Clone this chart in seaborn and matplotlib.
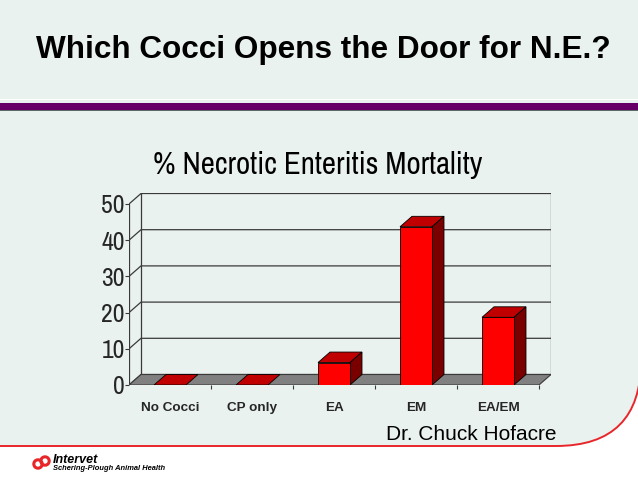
import matplotlib
matplotlib.use("Agg")
import matplotlib.pyplot as plt
import seaborn as sns
import pandas as pd
from matplotlib import font_manager as fm
from matplotlib.patches import Polygon, FancyBboxPatch, Rectangle, Circle

# ---- data ----
categories = ["No Cocci", "CP only", "EA", "EM", "EA/EM"]
mortality = [0, 0, 6.2, 43.7, 18.7]
y_ticks = [0, 10, 20, 30, 40, 50]
slide_title = "Which Cocci Opens the Door for N.E.?"
chart_title = "% Necrotic Enteritis Mortality"
credit = "Dr. Chuck Hofacre"

sns.set_theme(style="white")
plt.rcParams['font.family'] = ['Liberation Sans', 'DejaVu Sans']

_installed = {f.name for f in fm.fontManager.ttflist}
_narrow_candidates = ["Liberation Sans Narrow", "Arial Narrow", "Archivo Narrow",
                      "PT Sans Narrow", "Roboto Condensed", "Pragati Narrow",
                      "Open Sans Condensed", "Fira Sans Condensed",
                      "IBM Plex Sans Condensed", "Encode Sans Condensed",
                      "Asap Condensed", "Sofia Sans Condensed", "Barlow Condensed"]
_reg = next((n for n in _narrow_candidates if n in _installed), None)
NARROW = ([_reg] if _reg else []) + ['Liberation Sans', 'DejaVu Sans']

W, H = 638, 478
fig = plt.figure(figsize=(W / 100, H / 100), dpi=100)
fig.patch.set_facecolor("white")

# ---- slide background ----
bg = fig.add_axes([0, 0, 1, 1], zorder=0)
bg.set_xlim(0, W)
bg.set_ylim(H, 0)
bg.axis("off")
bg.add_patch(FancyBboxPatch((-300, -300), 941, 746,
                            boxstyle="round,pad=0,rounding_size=85",
                            facecolor="#EAF2EF", edgecolor="#E8262A", lw=1.4))
bg.add_patch(Rectangle((0, 98.5), W, 1.5, color="white", lw=0))
bg.add_patch(Rectangle((0, 103), W, 7, color="#660066", lw=0))
bg.add_patch(Rectangle((0, 110), W, 1.2, color="#5a6b66", lw=0))
bg.text(323, 58, slide_title, ha="center", va="baseline",
        fontsize=22.7, fontweight="bold", color="black")
bg.text(471, 440, credit, ha="center", va="baseline", fontsize=15, color="black")
bg.text(318, 174, chart_title, ha="center", va="baseline", fontsize=22.3,
        family=NARROW, color="black")
# logo
bg.add_patch(Circle((38, 464), 4.2, fill=False, ec="#E8262A", lw=2.2))
bg.add_patch(Circle((45, 461), 4.2, fill=False, ec="#E8262A", lw=2.2))
bg.text(53, 463, "Intervet", fontsize=9, fontweight="bold", style="italic",
        color="black", va="baseline")
bg.text(53, 470.5, "Schering-Plough Animal Health", fontsize=5.4, fontweight="bold",
        style="italic", color="black", va="baseline")

# ---- chart axes ----
px_x = 82.0     # px per category
px_y = 3.62     # px per unit
dx = 12 / px_x
dy = 10.5 / px_y
x_lo, x_hi = -0.5, 4.5 + dx
y_lo, y_hi = 0, 50 + dy
left_px, base_px = 129, 385
ax = fig.add_axes([left_px / W, (H - base_px) / H,
                   (x_hi - x_lo) * px_x / W, (y_hi - y_lo) * px_y / H], zorder=2)
ax.set_facecolor("none")

df = pd.DataFrame({"category": categories, "value": mortality})
sns.barplot(data=df, x="category", y="value", color="#FF0000", saturation=1,
            width=0.39, edgecolor="black", linewidth=0.6, ax=ax, zorder=4)

# floor
ax.add_patch(Polygon([(-0.5, 0), (4.5, 0), (4.5 + dx, dy), (-0.5 + dx, dy)],
                     closed=True, facecolor="#808080", edgecolor="#3a3a3a",
                     lw=0.8, zorder=1))
# back wall gridlines
for t in y_ticks:
    ax.plot([-0.5, -0.5 + dx, 4.5 + dx], [t, t + dy, t + dy],
            color="#3a3a3a", lw=0.9, zorder=0.5, solid_capstyle="butt")
ax.plot([4.5 + dx, 4.5 + dx], [dy, 50 + dy], color="#3a3a3a", lw=0.9, zorder=0.5)
ax.plot([-0.5 + dx, -0.5 + dx], [dy, 50 + dy], color="#3a3a3a", lw=0.9, zorder=0.5)
ax.plot([-0.5, -0.5], [0, 50], color="#3a3a3a", lw=0.9, zorder=0.6)

# 3D faces of bars
for p in list(ax.patches)[:len(categories)]:
    x0, w, h = p.get_x(), p.get_width(), p.get_height()
    top = Polygon([(x0, h), (x0 + w, h), (x0 + w + dx, h + dy), (x0 + dx, h + dy)],
                  closed=True, facecolor="#C00000", edgecolor="black", lw=0.6, zorder=3)
    ax.add_patch(top)
    if h > 0:
        side = Polygon([(x0 + w, 0), (x0 + w + dx, dy), (x0 + w + dx, h + dy), (x0 + w, h)],
                       closed=True, facecolor="#7A0000", edgecolor="black", lw=0.6, zorder=3)
        ax.add_patch(side)
    else:
        p.set_visible(False)

ax.set_xlim(x_lo, x_hi)
ax.set_ylim(y_lo, y_hi)
for s in ax.spines.values():
    s.set_visible(False)
ax.set_xlabel("")
ax.set_ylabel("")
ax.set_yticks(y_ticks)
ax.set_yticklabels([str(t) for t in y_ticks], family=NARROW, fontsize=18.5)
ax.tick_params(axis="y", length=3, width=0.8, color="#3a3a3a", pad=0, left=True)
ax.set_xticks(range(len(categories)))
ax.set_xticklabels(categories, fontsize=9.7, fontweight="bold")
ax.tick_params(axis="x", length=0, pad=12)
ax.set_xticks([0.5, 1.5, 2.5, 3.5, 4.5], minor=True)
ax.tick_params(axis="x", which="minor", length=3, width=0.8, color="#3a3a3a", bottom=True)

fig.savefig("out.png", dpi=100, facecolor="white")
